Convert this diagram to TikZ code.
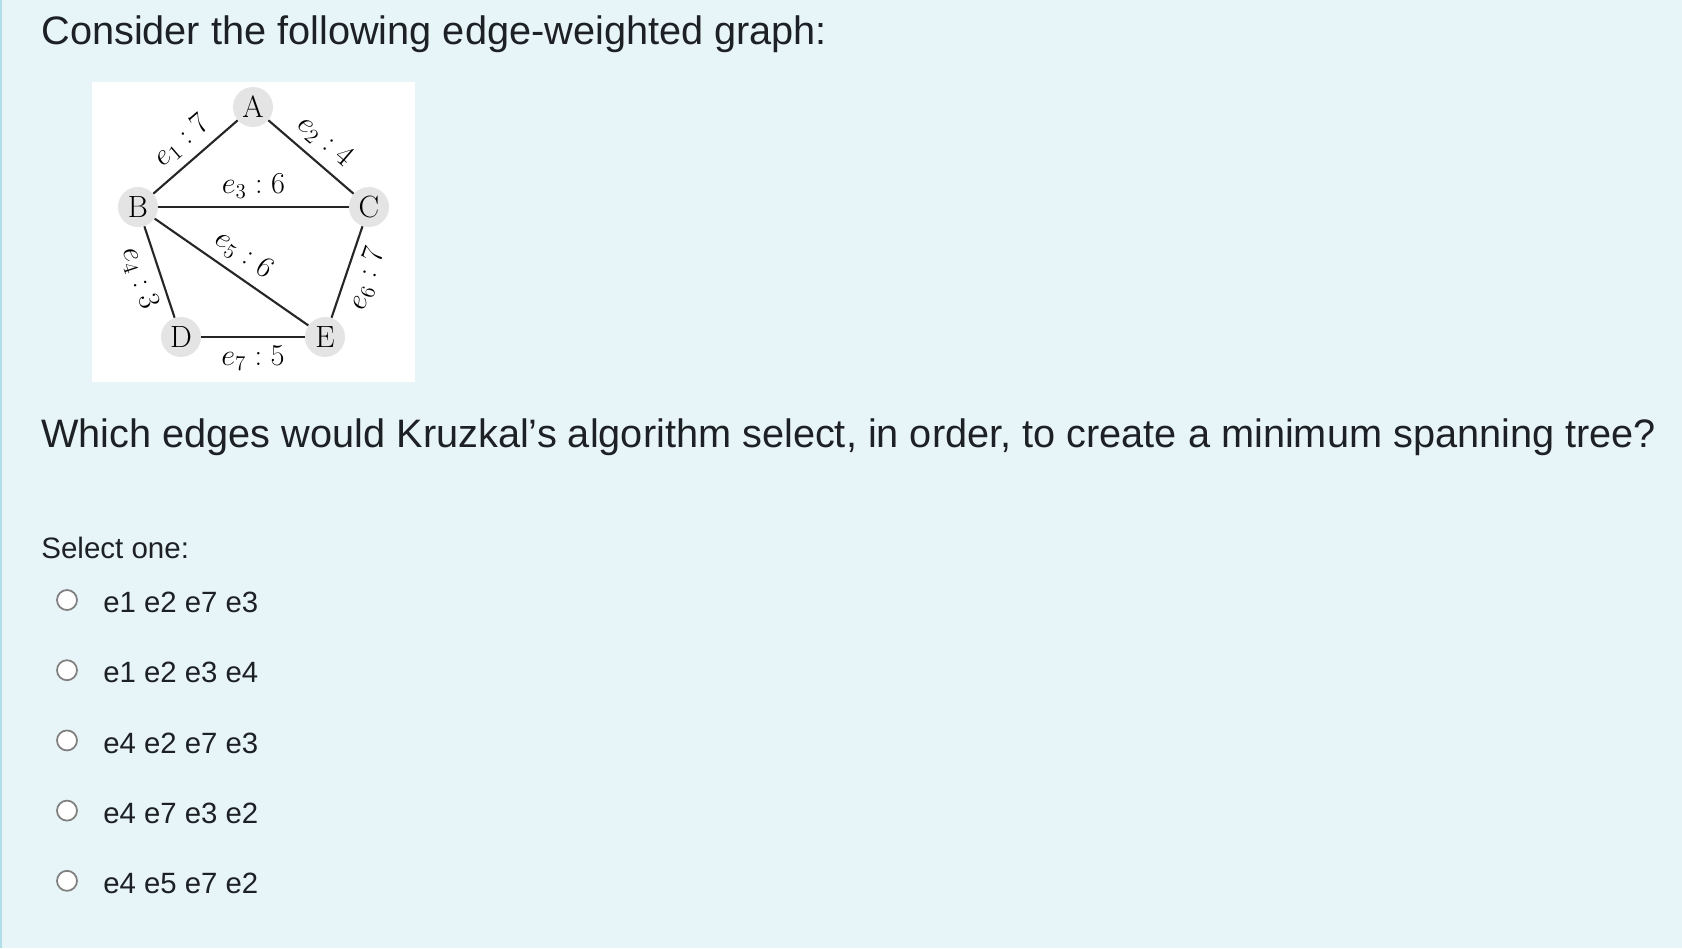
\documentclass[tikz,border=0pt]{standalone}
\usepackage{fontspec}
\usepackage{amsmath}
\usepackage{tikz}
\usetikzlibrary{calc}
\newfontfamily\uifont{Liberation Sans}
\definecolor{pagebg}{RGB}{231,245,248}
\definecolor{pageedge}{RGB}{178,222,234}
\definecolor{inkdark}{RGB}{29,33,37}
\definecolor{vertexgray}{RGB}{228,228,228}
\definecolor{radiogray}{RGB}{128,128,128}
\tikzset{
  vertex/.style={circle,fill=vertexgray,inner sep=0pt,minimum size=0.8cm,
    font=\fontsize{17.5}{20}\selectfont},
  edge/.style={line width=1.2pt,draw=black!85},
  wlabel/.style={font=\fontsize{16.5}{19}\selectfont,sloped,inner sep=4.5pt},
  radio/.style={circle,draw=radiogray,fill=white,line width=1pt,inner sep=0pt,minimum size=0.4cm},
  uitext/.style={anchor=base west,inner sep=0pt,text=inkdark}
}
\begin{document}
\begin{tikzpicture}[x=0.02cm,y=-0.02cm]
\useasboundingbox (0,0) rectangle (1682,948);
\fill[pagebg] (0,0) rectangle (1682,948);
\fill[pageedge] (0,0) rectangle (2,948);
%question text
\node[uitext,font=\uifont\fontsize{22.6}{27}\selectfont] (title) at (41,44) {Consider the following edge-weighted graph:};
\node[uitext,font=\uifont\fontsize{22.6}{27}\selectfont] (question) at (41,447) {Which edges would Kruzkal’s algorithm select, in order, to create a minimum spanning tree?};
\node[uitext,font=\uifont\fontsize{16.8}{20}\selectfont] (select) at (41,558) {Select one:};
%graph picture
\fill[white] (92,82) rectangle (415,382);
\node[vertex] (A) at (253,107) {A};
\node[vertex] (B) at (138,207) {B};
\node[vertex] (C) at (369,207) {C};
\node[vertex] (D) at (181,337) {D};
\node[vertex] (E) at (325,337) {E};
\draw[edge] (B) -- node[wlabel,above]{$e_1:7$} (A);
\draw[edge] (A) -- node[wlabel,above]{$e_2:4$} (C);
\draw[edge] (B) -- node[wlabel,above]{$e_3:6$} (C);
\draw[edge] (B) -- node[wlabel,below]{$e_4:3$} (D);
\draw[edge] (B) -- node[wlabel,above]{$e_5:6$} (E);
\draw[edge] (C) -- node[wlabel,below]{$e_6:7$} (E);
\draw[edge] (D) -- node[wlabel,below]{$e_7:5$} (E);
%answers
\foreach \t [count=\i] in {e1 e2 e7 e3,e1 e2 e3 e4,e4 e2 e7 e3,e4 e7 e3 e2,e4 e5 e7 e2}{
\node[radio] (r\i) at (67,{600+(\i-1)*70.2}) {};
\node[uitext,font=\uifont\fontsize{16.7}{20}\selectfont] (opt\i) at (103,{612.7+(\i-1)*70.2}) {\t};
}
\end{tikzpicture}
\end{document}
